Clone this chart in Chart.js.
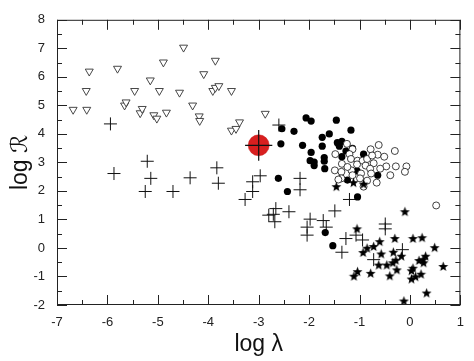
<!DOCTYPE html>
<html>
<head>
<meta charset="utf-8">
<script src="https://cdn.jsdelivr.net/npm/chart.js@4.4.0/dist/chart.umd.min.js"></script>
<style>
  html, body { margin: 0; padding: 0; background: #fff; }
  #wrap { width: 474px; height: 361px; }
</style>
</head>
<body>
<div id="wrap"><canvas id="chart" width="474" height="361"></canvas></div>
<script>
// open triangles (down)
const triX = [-6.68,-6.41,-6.42,-6.36,-5.80,-5.66,-5.63,-5.46,-5.35,-5.31,-5.15,-5.08,-5.02,-4.97,-4.89,-4.83,-4.57,-4.49,-4.31,-4.18,-4.17,-4.09,-3.91,-3.86,-3.86,-3.79,-3.54,-3.54,-3.45,-3.38,-2.87];
const triY = [4.85,4.85,5.51,6.19,6.29,5.00,5.11,5.51,4.73,4.88,5.88,4.66,4.54,5.51,6.51,4.75,5.45,7.03,5.00,4.62,4.46,6.10,5.51,6.57,5.62,5.68,5.51,4.12,4.18,4.41,4.71];

// plus signs
const plusX = [-5.94,-5.87,-5.21,-5.14,-5.25,-4.70,-4.36,-3.83,-3.80,-3.27,-3.12,-3.12,-2.97,-2.80,-2.71,-2.66,-2.68,-2.40,-2.60,-2.18,-2.18,-1.20,-1.49,-1.98,-2.04,-2.04,-1.72,-1.66,-0.49,-0.49,-1.27,-1.07,-0.94,-1.35,-0.72,-0.15];
const plusY = [4.35,2.61,3.04,2.44,1.98,1.98,2.46,2.81,2.27,1.70,1.98,2.32,2.53,1.15,1.18,1.38,0.92,1.27,4.31,2.44,2.04,1.70,1.30,1.01,0.73,0.45,0.96,0.73,0.84,0.67,0.33,0.45,0.28,-0.15,-0.41,-0.06];

// filled circles
const dotX = [-2.06,-1.96,-1.46,-2.54,-2.30,-1.17,-2.56,-1.74,-1.60,-2.13,-1.74,-1.44,-1.35,-1.40,-1.96,-1.27,-1.14,-1.70,-1.98,-1.90,-1.70,-1.90,-1.69,-1.35,-0.92,-2.61,-2.43,-1.05,-0.64,-1.24,-1.04,-1.68,-1.53];
const dotY = [4.56,4.45,4.48,4.18,4.09,4.13,3.65,3.88,4.00,3.60,3.57,3.69,3.74,3.57,3.35,3.40,3.49,3.17,3.06,3.01,3.04,2.89,2.78,3.20,3.29,2.44,1.98,2.70,2.55,2.38,1.79,0.54,0.08];

// open circles
const ringX = [-1.48,-1.25,-1.14,-1.20,-1.35,-1.17,-1.04,-1.49,-1.36,-1.16,-0.94,-0.88,-0.78,-0.62,-0.64,-0.51,-0.72,-0.79,-0.77,-0.47,-0.30,-0.28,-0.07,-0.10,-0.39,-0.97,-1.14,-1.36,-1.42,-0.99,-0.85,-0.92,-0.66,-1.05,-0.85,0.52,-0.59,-1.24,-0.75];
const ringY = [3.29,3.65,3.46,3.29,2.95,3.12,3.06,2.72,2.67,2.72,3.06,2.89,3.46,3.61,3.27,3.20,2.97,2.78,2.61,2.86,3.40,2.86,2.86,2.67,2.55,2.61,2.55,2.44,2.40,2.44,2.36,2.15,2.29,2.93,3.12,1.49,2.78,2.84,3.24];

// filled stars
const starX = [-1.46,-1.12,-0.92,-0.10,-1.05,0.06,0.24,-0.30,-0.60,-0.72,-0.85,-0.93,-0.57,-0.33,0.49,-0.17,-0.28,-0.34,-0.62,-0.46,-0.26,-0.78,-1.04,-1.11,-0.40,0.18,0.26,0.31,0.27,0.03,0.06,0.03,0.11,0.22,0.66,0.33,-0.12];
const starY = [2.15,2.29,2.24,1.27,0.67,0.33,0.36,0.33,0.22,0.05,-0.01,-0.16,-0.21,-0.15,0.01,-0.29,-0.43,-0.52,-0.60,-0.60,-0.77,-0.89,-0.83,-0.99,-0.98,-0.44,-0.41,-0.29,-0.52,-0.80,-0.71,-1.09,-1.01,-0.92,-0.65,-1.58,-1.86];

// red point with error bars
const redX = [-3.0];
const redY = [3.6];
const redErrX = [-3.27, -2.73];
const redErrY = [3.06, 4.14];

function pts(xs, ys) {
    return xs.map(function(x, i){ return {x:x, y:ys[i]}; });
}

// filled star marker
function makeStar() {
    let c = document.createElement("canvas");
    c.width = 11; c.height = 11;
    let g = c.getContext("2d");
    g.fillStyle = "#000";
    g.beginPath();
    for (let i=0; i<10; i++) {
        let r = i%2==0 ? 5.2 : 2.2;
        let a = -Math.PI/2 + i*Math.PI/5;
        let px = 5.5 + r*Math.cos(a), py = 5.8 + r*Math.sin(a);
        if (i==0) g.moveTo(px, py); else g.lineTo(px, py);
    }
    g.closePath();
    g.fill();
    return c;
}

// box with inward ticks on all four sides
const boxTicks = {
    id: "boxTicks",
    afterDatasetsDraw(chart) {
        const ctx = chart.ctx, a = chart.chartArea;
        const xs = chart.scales.x, ys = chart.scales.y;
        ctx.save();
        ctx.strokeStyle = "#222";
        ctx.lineWidth = 1;
        ctx.strokeRect(a.left+0.5, a.top+0.5, a.right-a.left-1, a.bottom-a.top-1);
        ctx.beginPath();
        for (let v=-7; v<=1.001; v+=0.5) {
            let p = Math.round(xs.getPixelForValue(v))+0.5;
            let len = Math.abs(v-Math.round(v))<0.01 ? 10 : 5;
            ctx.moveTo(p, a.bottom); ctx.lineTo(p, a.bottom-len);
            ctx.moveTo(p, a.top); ctx.lineTo(p, a.top+len);
        }
        for (let v=-2; v<=8.001; v+=0.5) {
            let p = Math.round(ys.getPixelForValue(v))+0.5;
            let len = Math.abs(v-Math.round(v))<0.01 ? 10 : 5;
            ctx.moveTo(a.left, p); ctx.lineTo(a.left+len, p);
            ctx.moveTo(a.right, p); ctx.lineTo(a.right-len, p);
        }
        ctx.stroke();
        ctx.restore();
    }
};

const tickFont = {family:"Arial, 'Liberation Sans', sans-serif", size:13};
const titleFont = {family:"Arial, 'Liberation Sans', 'DejaVu Sans', sans-serif", size:23};

new Chart(document.getElementById("chart"), {
    type:"scatter",
    plugins:[boxTicks],
    data:{
        datasets:[
            {
                label:"err x", data:pts(redErrX, [redY[0], redY[0]]), showLine:true,
                borderColor:"#111", borderWidth:1.2, pointRadius:0, order:0
            },
            {
                label:"err y", data:pts([redX[0], redX[0]], redErrY), showLine:true,
                borderColor:"#111", borderWidth:1.2, pointRadius:0, order:0
            },
            {
                label:"red", data:pts(redX, redY), pointRadius:10.5,
                backgroundColor:"#d81f1f", borderColor:"#c41818", borderWidth:0.5, order:1
            },
            {
                label:"stars", data:pts(starX, starY), pointStyle:makeStar(), order:2
            },
            {
                label:"rings", data:pts(ringX, ringY), pointRadius:3.5,
                backgroundColor:"#fff", borderColor:"#111", borderWidth:0.8, order:3
            },
            {
                label:"dots", data:pts(dotX, dotY), pointRadius:3.6,
                backgroundColor:"#000", borderColor:"#000", borderWidth:0, order:4
            },
            {
                label:"plus", data:pts(plusX, plusY), pointStyle:"cross", pointRadius:6.5,
                borderColor:"#111", borderWidth:1, order:5
            },
            {
                label:"tri", data:pts(triX, triY), pointStyle:"triangle", rotation:180, pointRadius:4.6,
                backgroundColor:"#fff", borderColor:"#333", borderWidth:0.9, order:6
            }
        ]
    },
    options:{
        responsive:false,
        animation:false,
        layout:{padding:{top:12, right:5, left:0, bottom:0}},
        plugins:{legend:{display:false}, tooltip:{enabled:false}},
        scales:{
            x:{
                type:"linear", min:-7, max:1,
                ticks:{stepSize:1, font:tickFont, color:"#222", padding:10},
                grid:{drawOnChartArea:false, drawTicks:false},
                border:{display:false},
                title:{display:true, text:"log λ", font:titleFont, color:"#111", padding:{top:0, bottom:3}},
                afterFit:function(s){ s.height = 56; }
            },
            y:{
                type:"linear", min:-2, max:8,
                ticks:{stepSize:1, font:tickFont, color:"#222", padding:12},
                grid:{drawOnChartArea:false, drawTicks:false},
                border:{display:false},
                title:{display:true, text:"log ℛ", font:titleFont, color:"#111", padding:{top:7, bottom:0}},
                afterFit:function(s){ s.width = 57; }
            }
        }
    }
});
</script>
</body>
</html>
